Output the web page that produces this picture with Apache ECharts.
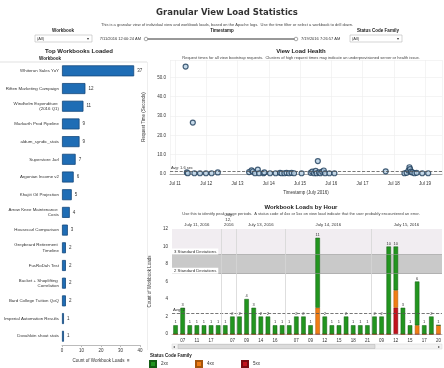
<!DOCTYPE html>
<html><head><meta charset="utf-8">
<script src="https://cdn.jsdelivr.net/npm/echarts@6/dist/echarts.min.js"></script>
<style>html,body{margin:0;padding:0;background:#fff}#c{width:444px;height:368px}</style>
</head><body><div id="c"></div>
<script>
// ---------- Top workbooks ----------
const workbooks = ['Whiterun Sales YoY','Riften Marketing Campaign','Windhelm Expenditure (2016 Q1)','Markarth Prod Pipeline','aldum_syndic_stats','Superstore Jarl','Argonian Income v2','Khajiit Oil Projection','Arrow Knee Maintenance Costs','Housecarl Comparison','Greybeard Retirement Timeline','FusRoDah Test','Bucket + Shoplifting Correlation','Bard College Tuition QoQ','Imperial Automation Results','Dovahkiin shout stats'];
const workbookLoads = [37,12,11,9,9,7,6,5,4,3,2,2,2,2,1,1];
const workbookTicks = [0,10,20,30,40];

// ---------- View load health ----------
const viewTimes = ['2016-07-11 08:10','2016-07-11 13:41','2016-07-11 09:07','2016-07-11 09:50','2016-07-11 14:53','2016-07-11 19:12','2016-07-11 23:46','2016-07-12 04:05','2016-07-12 08:53',
 '2016-07-13 08:53','2016-07-13 10:48','2016-07-13 11:46','2016-07-13 13:26','2016-07-13 15:36','2016-07-13 16:34','2016-07-13 19:55','2016-07-13 20:38',
 '2016-07-14 00:58','2016-07-14 05:17','2016-07-14 08:38','2016-07-14 09:50','2016-07-14 12:00','2016-07-14 13:41','2016-07-14 15:36','2016-07-14 17:31','2016-07-14 19:26',
 '2016-07-15 01:12','2016-07-15 08:10','2016-07-15 09:22','2016-07-15 10:48','2016-07-15 12:00','2016-07-15 12:43','2016-07-15 13:41','2016-07-15 14:38','2016-07-15 15:36','2016-07-15 17:02','2016-07-15 18:14','2016-07-15 19:12','2016-07-15 22:34',
 '2016-07-16 02:24','2016-07-17 17:46',
 '2016-07-18 08:10','2016-07-18 09:50','2016-07-18 11:17','2016-07-18 12:00','2016-07-18 12:29','2016-07-18 13:12','2016-07-18 14:10','2016-07-18 15:50','2016-07-18 17:31','2016-07-18 21:50','2016-07-19 02:24'];
const viewSeconds = [55.6,26.6,0.8,0.4,0.4,0.4,0.4,0.4,0.8,
 1.0,1.9,1.3,0.4,2.3,0.4,0.4,0.8,
 0.4,0.4,0.6,0.4,0.4,0.6,0.4,0.6,0.4,
 0.4,0.6,1.2,0.4,1.6,0.4,6.7,0.8,0.4,1.2,1.8,0.4,0.4,
 0.4,1.4,
 0.4,0.6,1.8,3.5,2.5,1.2,0.8,0.4,0.6,0.4,0.4];
const avgViewSeconds = 1.6;
const viewTimeMin = '2016-07-10 20:10';
const viewTimeMax = '2016-07-19 13:00';

// ---------- Workbook loads by hour ----------
const hourDays = ['July 11, 2016','July 11, 2016','July 11, 2016','July 11, 2016','July 11, 2016','July 11, 2016','July 11, 2016',
 'July 12, 2016','July 12, 2016',
 'July 13, 2016','July 13, 2016','July 13, 2016','July 13, 2016','July 13, 2016','July 13, 2016','July 13, 2016',
 'July 14, 2016','July 14, 2016','July 14, 2016','July 14, 2016','July 14, 2016','July 14, 2016','July 14, 2016','July 14, 2016','July 14, 2016','July 14, 2016','July 14, 2016','July 14, 2016',
 'July 15, 2016','July 15, 2016','July 15, 2016','July 15, 2016','July 15, 2016','July 15, 2016','July 15, 2016','July 15, 2016','July 15, 2016','July 15, 2016'];
const hourLabels = ['06','07','10','11','15','17','19',
 '06','07',
 '08','09','11','14','15','16','18',
 '06','07','08','09','11','12','14','15','16','18','20','21',
 '08','09','11','12','13','15','16','17','19','20'];
const loads2xx = [1,3,1,1,1,1,1, 1,2, 2,4,3,2,2,1,1, 1,2,2,1,8,2,1,1,2,1,1,1, 2,2,10,5,3,1,5,1,2,0];
const loads4xx = [0,0,0,0,0,0,0, 0,0, 0,0,0,0,0,0,0, 0,0,0,0,3,0,0,0,0,0,0,0, 0,0,0,2,0,0,1,0,0,1];
const loads5xx = [0,0,0,0,0,0,0, 0,0, 0,0,0,0,0,0,0, 0,0,0,0,0,0,0,0,0,0,0,0, 0,0,0,3,0,0,0,0,0,0];
const sd2Value = 6.9, sd3Value = 9.1;
const hourTicks = [0,2,4,6,8,10,12];

// ---------- derived ----------
const hourCats = hourDays.map((d,i)=>d+'|'+hourLabels[i]);
const totals = loads2xx.map((v,i)=>v+loads4xx[i]+loads5xx[i]);
const avgLoads = totals.reduce((a,b)=>a+b,0)/totals.length;
const panes = [];
hourDays.forEach((d,i)=>{ const p=panes[panes.length-1]; if(!p||p.day!==d) panes.push({day:d,start:i,end:i+1}); else p.end=i+1; });
const posInPane = hourDays.map((d,i)=>{ const p=panes.find(q=>q.day===d); return i-p.start; });

const F = 'Liberation Sans';
const txt = '#333';
const grid2W = 270, barSlot = grid2W/hourCats.length;

const chart = echarts.init(document.getElementById('c'));
chart.setOption({
  animation:false,
  textStyle:{fontFamily:F},
  title:[
    {text:'Granular View Load Statistics',left:222,top:3,textAlign:'center',textStyle:{fontFamily:'DejaVu Sans',fontWeight:'bold',fontSize:8.5,color:'#333'}},
    {text:'This is a granular view of individual view and workbook loads, based on the Apache logs.  Use the time filter or select a workbook to drill down.',left:222,top:18,textAlign:'center',textStyle:{fontSize:4,fontWeight:'normal',color:'#444'}},
    {text:'Top Workbooks Loaded',left:74,top:43,textAlign:'center',textStyle:{fontSize:6,fontWeight:'bold',color:'#222'}},
    {text:'View Load Health',left:296,top:43,textAlign:'center',textStyle:{fontSize:6,fontWeight:'bold',color:'#222'}},
    {text:'Request times for all view bootstrap requests.  Clusters of high request times may indicate an underprovisioned server or health issue.',left:296,top:51,textAlign:'center',textStyle:{fontSize:4,fontWeight:'normal',color:'#444'}},
    {text:'Workbook Loads by Hour',left:296,top:199,textAlign:'center',textStyle:{fontSize:6,fontWeight:'bold',color:'#222'}},
    {text:'Use this to identify peak usage periods.  A status code of 4xx or 5xx on view load indicate that the user probably encountered an error.',left:296,top:207,textAlign:'center',textStyle:{fontSize:4,fontWeight:'normal',color:'#444'}},
    {text:'Status Code Family',left:150,top:353,padding:0,textStyle:{fontSize:4.5,fontWeight:'bold',color:'#222'}}
  ],
  legend:{left:149,top:360,itemWidth:6,itemHeight:6,itemGap:27,icon:'rect',padding:0,
    textStyle:{fontSize:4.5,color:'#333'},data:['2xx','4xx','5xx']},
  grid:[
    {left:61,top:62,width:79,height:288},
    {left:170,top:60,right:2,height:114},
    {left:172,top:229,right:2,height:105}
  ],
  xAxis:[
    {gridIndex:0,type:'value',min:workbookTicks[0],max:workbookTicks[workbookTicks.length-1],interval:10,
     axisLine:{show:true,lineStyle:{color:'#bbb'}},axisTick:{show:true,length:2,lineStyle:{color:'#bbb'}},splitLine:{show:false},
     axisLabel:{fontSize:4.5,color:txt,margin:3},
     name:'Count of Workbook Loads  \u2261',nameLocation:'middle',nameGap:10,nameTextStyle:{fontSize:4.5,color:txt}},
    {gridIndex:1,type:'time',min:viewTimeMin,max:viewTimeMax,minInterval:86400000,maxInterval:86400000,
     axisLine:{show:true,lineStyle:{color:'#aaa'}},axisTick:{show:false},
     splitLine:{show:true,lineStyle:{color:'#ececec',width:0.6}},
     axisLabel:{fontSize:4.5,color:txt,margin:7,formatter:v=>{const d=new Date(v);return d.getHours()===0&&d.getMinutes()===0?'Jul '+d.getDate():'';}},
     name:'Timestamp (July 2016)',nameLocation:'middle',nameGap:16,nameTextStyle:{fontSize:4.5,color:txt}},
    {gridIndex:2,type:'category',data:hourCats,
     axisLine:{show:true,lineStyle:{color:'#bbb'}},axisTick:{show:false},
     axisLabel:{fontSize:4.5,color:txt,margin:4,interval:i=>posInPane[i]%2===1,formatter:v=>v.split('|')[1]}},
    {gridIndex:2,type:'value',min:0,max:hourCats.length,show:false}
  ],
  yAxis:[
    {gridIndex:0,type:'category',data:workbooks,inverse:true,axisLine:{show:false},axisTick:{show:false},
     axisLabel:{fontSize:4.4,color:txt,margin:3,width:56,overflow:'break',lineHeight:5.5}},
    {gridIndex:1,type:'value',min:0,max:59,interval:10,
     axisLine:{show:false},axisTick:{show:false},splitLine:{lineStyle:{color:'#ececec',width:0.6}},
     axisLabel:{fontSize:4.5,color:txt,margin:4,showMaxLabel:false,formatter:v=>v.toFixed(1)},
     name:'Request Time (Seconds)',nameLocation:'middle',nameGap:17,nameTextStyle:{fontSize:4.5,color:txt}},
    {gridIndex:2,type:'value',min:hourTicks[0],max:hourTicks[hourTicks.length-1],interval:2,
     axisLine:{show:false},axisTick:{show:false},splitLine:{show:false},
     axisLabel:{fontSize:4.5,color:txt,margin:4},
     name:'Count of Workbook Loads',nameLocation:'middle',nameGap:18,nameTextStyle:{fontSize:4.5,color:txt}}
  ],
  series:[
    {type:'bar',xAxisIndex:0,yAxisIndex:0,data:workbookLoads,barWidth:11,
     itemStyle:{color:'#1f6db5',borderColor:'#15497c',borderWidth:0.8},
     label:{show:true,position:'right',distance:3,fontSize:4.5,color:'#333'}},
    {type:'scatter',xAxisIndex:1,yAxisIndex:1,data:viewTimes.map((t,i)=>[t,viewSeconds[i]]),symbolSize:5,
     itemStyle:{color:'#b7cfe3',borderColor:'#1d3c5a',borderWidth:1.2},
     markLine:{silent:true,symbol:'none',data:[{yAxis:avgViewSeconds}],
       lineStyle:{type:'dashed',color:'#555',width:0.8},
       label:{position:'insideStartTop',formatter:'Avg: '+avgViewSeconds+' sec',fontSize:4,color:'#333',distance:1}}},
    {type:'line',xAxisIndex:3,yAxisIndex:2,data:[[0,0]],symbol:'none',lineStyle:{opacity:0},silent:true,
     markArea:{silent:true,data:[
       [{yAxis:sd3Value,itemStyle:{color:'#f1edf1'}},{yAxis:hourTicks[hourTicks.length-1]}],
       [{yAxis:sd2Value,itemStyle:{color:'#c9c9c9'}},{yAxis:sd3Value}]
     ].concat(panes.map(p=>[{xAxis:p.start,name:p.day,itemStyle:{color:'rgba(0,0,0,0)'},
        label:{show:true,position:'top',distance:2,fontSize:4.3,color:'#333',width:(p.end-p.start)*barSlot-2,overflow:'break',lineHeight:5,align:'center'}},{xAxis:p.end}]))},
     markLine:{silent:true,symbol:'none',data:[
       {yAxis:sd3Value,lineStyle:{color:'#999',width:0.6,type:'solid'},label:{formatter:'3 Standard Deviations',position:'insideStartTop',fontSize:4.3,color:'#333',backgroundColor:'#fff',padding:[1,2],distance:0}},
       {yAxis:sd2Value,lineStyle:{color:'#999',width:0.6,type:'solid'},label:{formatter:'2 Standard Deviations',position:'insideStartTop',fontSize:4.3,color:'#333',backgroundColor:'#fff',padding:[1,2],distance:0}},
       {yAxis:avgLoads,lineStyle:{color:'#555',width:0.8,type:'dashed'},label:{formatter:'Avg: '+Math.round(avgLoads),position:'insideStartTop',fontSize:4.3,color:'#333',distance:1}}
     ].concat(panes.slice(1).map(p=>({xAxis:p.start,lineStyle:{color:'#d6d6d6',width:0.8,type:'solid'},label:{show:false}})))}},
    {name:'5xx',type:'bar',stack:'h',xAxisIndex:2,yAxisIndex:2,data:loads5xx,barWidth:4.5,itemStyle:{color:'#c1121c',borderColor:'#7a0a10',borderWidth:0.5}},
    {name:'4xx',type:'bar',stack:'h',xAxisIndex:2,yAxisIndex:2,data:loads4xx,barWidth:4.5,itemStyle:{color:'#f07d14',borderColor:'#a5550b',borderWidth:0.5}},
    {name:'2xx',type:'bar',stack:'h',xAxisIndex:2,yAxisIndex:2,data:loads2xx,barWidth:4.5,itemStyle:{color:'#22951f',borderColor:'#135d12',borderWidth:0.5}},
    {name:'total',type:'bar',stack:'h',xAxisIndex:2,yAxisIndex:2,data:totals.map(()=>0),barWidth:4.5,itemStyle:{color:'rgba(0,0,0,0)'},
     label:{show:true,position:'top',distance:1,fontSize:4,color:'#333',formatter:p=>totals[p.dataIndex]}}
  ],
  graphic:[
    {type:'text',x:63,y:28,style:{text:'Workbook',font:'bold 4.5px '+F,fill:'#222',textAlign:'center'}},
    {type:'rect',shape:{x:35,y:35,width:57,height:7},style:{fill:'#fff',stroke:'#aaa',lineWidth:0.5}},
    {type:'text',x:37,y:36.5,style:{text:'(All)',font:'4px '+F,fill:'#333'}},
    {type:'text',x:87,y:36.5,style:{text:'\u25BE',font:'4px '+F,fill:'#333'}},
    {type:'text',x:222,y:28,style:{text:'Timestamp',font:'bold 4.5px '+F,fill:'#222',textAlign:'center'}},
    {type:'text',x:141,y:37,style:{text:'7/11/2016 12:00:24 AM',font:'4px '+F,fill:'#333',textAlign:'right'}},
    {type:'line',shape:{x1:146,y1:39,x2:296,y2:39},style:{stroke:'#333',lineWidth:1}},
    {type:'circle',shape:{cx:146,cy:39,r:1.8},style:{fill:'#fff',stroke:'#555',lineWidth:0.5}},
    {type:'circle',shape:{cx:296,cy:39,r:1.8},style:{fill:'#fff',stroke:'#555',lineWidth:0.5}},
    {type:'text',x:301,y:37,style:{text:'7/19/2016 7:26:57 AM',font:'4px '+F,fill:'#333'}},
    {type:'text',x:378,y:28,style:{text:'Status Code Family',font:'bold 4.5px '+F,fill:'#222',textAlign:'center'}},
    {type:'rect',shape:{x:350,y:35,width:52,height:7},style:{fill:'#fff',stroke:'#aaa',lineWidth:0.5}},
    {type:'text',x:352,y:36.5,style:{text:'(All)',font:'4px '+F,fill:'#333'}},
    {type:'text',x:397,y:36.5,style:{text:'\u25BE',font:'4px '+F,fill:'#333'}},
    {type:'text',x:50,y:56,style:{text:'Workbook',font:'bold 4.5px '+F,fill:'#222',textAlign:'center'}},
    {type:'line',shape:{x1:0,y1:62,x2:147,y2:62},style:{stroke:'#ccc',lineWidth:0.6}},
    {type:'line',shape:{x1:147.5,y1:62,x2:147.5,y2:350},style:{stroke:'#e2e2e2',lineWidth:0.6}},
    {type:'rect',shape:{x:172,y:344,width:270,height:5},style:{fill:'#f3f3f3',stroke:'#ccc',lineWidth:0.4}},
    {type:'rect',shape:{x:178,y:344.5,width:197,height:4},style:{fill:'#dcdcdc',stroke:'#aaa',lineWidth:0.4}},
    {type:'text',x:173,y:344.5,style:{text:'\u25C2',font:'4px '+F,fill:'#555'}},
    {type:'text',x:438,y:344.5,style:{text:'\u25B8',font:'4px '+F,fill:'#555'}}
  ]
});
</script></body></html>
